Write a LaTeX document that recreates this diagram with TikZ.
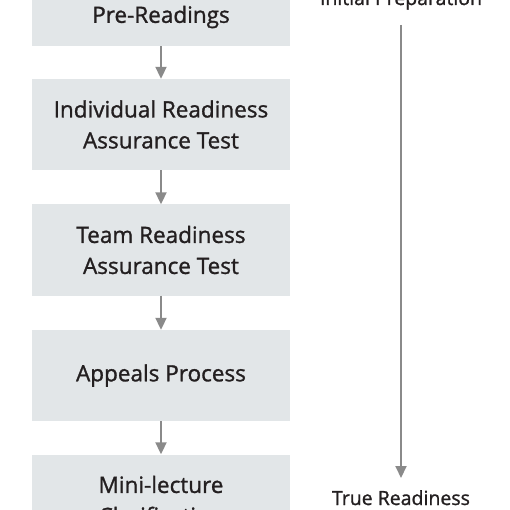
\documentclass[tikz,border=0pt]{standalone}
\usepackage{fontspec}
\setmainfont[FakeBold=1.2]{Open Sans}
\usetikzlibrary{arrows.meta}
\definecolor{boxfill}{HTML}{E2E6E8}
\definecolor{arrowgray}{HTML}{8A8A8A}
\definecolor{txt}{HTML}{231F20}
\begin{document}
\begin{tikzpicture}[x=1pt,y=-1pt,
  stepbox/.style={fill=boxfill,draw=none,minimum width=258pt,minimum height=91pt,
    align=center,font=\fontsize{22.5}{31}\selectfont,text=txt,inner sep=0pt},
  lbl/.style={font=\fontsize{19.5}{26}\selectfont,text=txt,inner sep=0pt,anchor=base},
  flow/.style={draw=arrowgray,line width=2pt,-{Triangle[width=11pt,length=12pt]}}]
\useasboundingbox (0,0) rectangle (510,510);
\clip (0,0) rectangle (510,510);
\node[stepbox,minimum height=58pt] (b1) at (161,17) {Pre-Readings};
\node[stepbox] (b2) at (161,124.5) {Individual Readiness\\Assurance Test};
\node[stepbox] (b3) at (161,250) {Team Readiness\\Assurance Test};
\node[stepbox] (b4) at (161,375.5) {Appeals Process};
\node[stepbox] (b5) at (161,500) {Mini-lecture\\Clarification};
\draw[flow] (b1) -- (b2);
\draw[flow] (b2) -- (b3);
\draw[flow] (b3) -- (b4);
\draw[flow] (b4) -- (b5);
\node[lbl] (ip) at (401,5) {Initial Preparation};
\node[lbl] (tr) at (401,505) {True Readiness};
\coordinate (s) at (401,25);
\coordinate (e) at (401,478);
\draw[flow] (s) -- (e);
\end{tikzpicture}
\end{document}
